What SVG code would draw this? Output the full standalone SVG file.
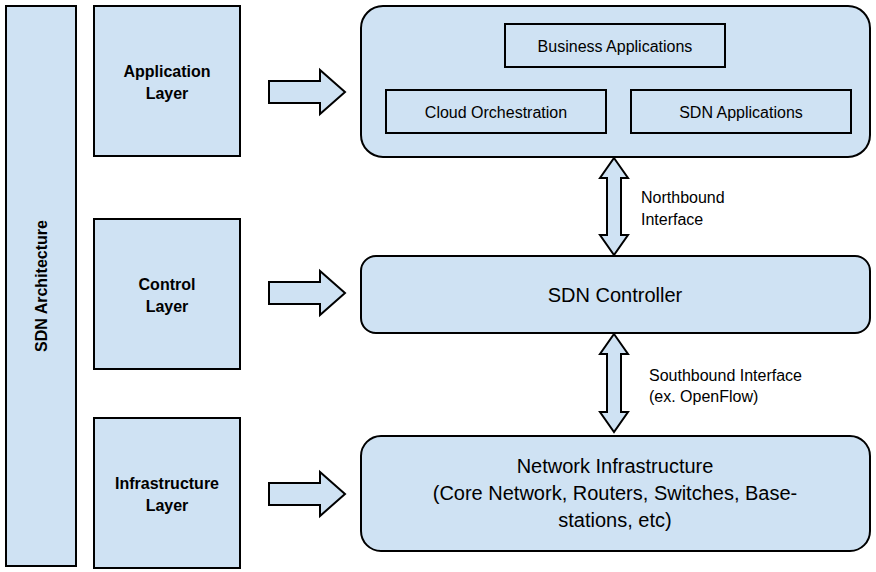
<svg xmlns="http://www.w3.org/2000/svg" width="876" height="572" viewBox="0 0 876 572">
<style>
.b{fill:#cfe2f3;stroke:#000;stroke-width:2}
.t{font-family:"Liberation Sans",Arial,sans-serif;fill:#000}
.bold{font-weight:bold;font-size:16px}
</style>
<rect width="876" height="572" fill="#fff"/>
<g id="arch"><rect class="b" x="6" y="6" width="70" height="560"/>
<text class="t bold" transform="translate(47,286) rotate(-90)" text-anchor="middle">SDN Architecture</text></g>
<g id="applayer"><rect class="b" x="94" y="6" width="146" height="150"/>
<text class="t bold" x="167" y="77" text-anchor="middle">Application</text><text class="t bold" x="167" y="99" text-anchor="middle">Layer</text></g>
<g id="ctllayer"><rect class="b" x="94" y="219" width="146" height="150"/>
<text class="t bold" x="167" y="290" text-anchor="middle">Control</text><text class="t bold" x="167" y="312" text-anchor="middle">Layer</text></g>
<g id="infralayer"><rect class="b" x="94" y="418" width="146" height="150"/>
<text class="t bold" x="167" y="489" text-anchor="middle">Infrastructure</text><text class="t bold" x="167" y="511" text-anchor="middle">Layer</text></g>
<g id="apps"><rect class="b" x="361" y="6" width="509" height="151" rx="22"/>
<rect class="b" x="505" y="24" width="220" height="43"/><text class="t" x="615" y="52" font-size="16" text-anchor="middle">Business Applications</text>
<rect class="b" x="386" y="90" width="220" height="43"/><text class="t" x="496" y="118" font-size="16" text-anchor="middle">Cloud Orchestration</text>
<rect class="b" x="631" y="90" width="220" height="43"/><text class="t" x="741" y="118" font-size="16" text-anchor="middle">SDN Applications</text></g>
<g id="controller"><rect class="b" x="361" y="256" width="509" height="77" rx="15"/>
<text class="t" x="615" y="302" font-size="20" text-anchor="middle">SDN Controller</text></g>
<g id="network"><rect class="b" x="361" y="436" width="509" height="115" rx="20"/>
<text class="t" x="615" y="473" font-size="20" text-anchor="middle">Network Infrastructure</text>
<text class="t" x="615" y="500" font-size="20" text-anchor="middle">(Core Network, Routers, Switches, Base-</text>
<text class="t" x="615" y="527" font-size="20" text-anchor="middle">stations, etc)</text></g>
<g id="connectors">
<path class="b" d="M269,81H320V70L345,92L320,114V103H269Z"/>
<path class="b" d="M269,282H320V271L345,293L320,315V304H269Z"/>
<path class="b" d="M269,483H320V472L345,494L320,516V505H269Z"/>
<path class="b" d="M614,158L628,178H621V235H628L614,255L600,235H607V178H600Z"/>
<path class="b" d="M614,334L628,354H621V412H628L614,432L600,412H607V354H600Z"/>
<text class="t" x="641" y="203" font-size="16">Northbound</text>
<text class="t" x="641" y="225" font-size="16">Interface</text>
<text class="t" x="649" y="381" font-size="16">Southbound Interface</text>
<text class="t" x="649" y="402" font-size="16">(ex. OpenFlow)</text>
</g>
</svg>
